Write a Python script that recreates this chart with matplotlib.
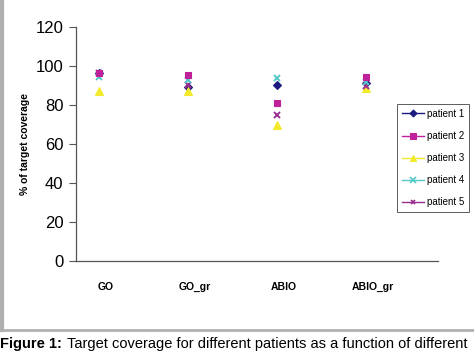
import matplotlib
matplotlib.use("Agg")
import matplotlib.pyplot as plt
from matplotlib.lines import Line2D

plt.rcParams['font.family'] = ['Liberation Sans', 'DejaVu Sans']

categories = ["GO", "GO_gr", "ABIO", "ABIO_gr"]
patient1 = [96.2, 89.0, 90.0, 91.0]
patient2 = [96.5, 95.3, 81.0, 94.4]
patient3 = [87.0, 87.0, 69.5, 88.7]
patient4 = [94.5, 92.8, 94.0, 91.8]
patient5 = [96.4, 90.0, 75.0, 89.8]
series_names = ["patient 1", "patient 2", "patient 3", "patient 4", "patient 5"]
yticks = [0, 20, 40, 60, 80, 100, 120]

series = [patient1, patient2, patient3, patient4, patient5]
colors = ["#1a1a80", "#c0209a", "#f2ea2a", "#55c8c8", "#9a2e90"]
markers = ["D", "s", "^", "x", "x"]
msizes = [4, 5, 5.5, 5, 4]
zorders = [3, 5, 3, 4, 3]

fig = plt.figure(figsize=(4.74, 3.54), dpi=100)
ax = fig.add_axes([0.160, 0.263, 0.764, 0.661])

xpos = list(range(1, len(categories) + 1))
handles = []
for s, c, m, ms, name, z in zip(series, colors, markers, msizes, series_names, zorders):
    ax.plot(xpos, s, linestyle='none', marker=m, color=c, markersize=ms,
            markeredgewidth=1.4 if m == 'x' else 0.8, zorder=z)
    handles.append(Line2D([0], [0], color=c, marker=m, markersize=ms - 0.5,
                          lw=1.0, markeredgewidth=1.2 if m == 'x' else 0.8, label=name))

ax.set_xlim(0.74, 4.81)
ax.set_ylim(0, 120)
ax.set_yticks(yticks)
ax.set_yticklabels([str(v) for v in yticks], fontsize=12)
ax.set_xticks([p + 0.08 for p in xpos])
ax.set_xticklabels(categories, fontsize=7.5, fontweight='bold')
ax.tick_params(axis='x', length=0, pad=15)
ax.tick_params(axis='y', length=5, width=0.8, color='#555555', pad=4)
for sp in ['top', 'right']:
    ax.spines[sp].set_visible(False)
for sp in ['left', 'bottom']:
    ax.spines[sp].set_color('#555555')
    ax.spines[sp].set_linewidth(0.9)
ax.set_ylabel("% of target coverage", fontsize=7.5, fontweight='bold', labelpad=4)

leg = fig.legend(handles=handles, loc='upper left', bbox_to_anchor=(397 / 474, 1 - 104 / 354),
                 borderaxespad=0.0,
                 fontsize=7, frameon=True, fancybox=False, edgecolor='#333333',
                 handlelength=2.3, borderpad=0.5, labelspacing=1.25, handletextpad=0.3)
leg.get_frame().set_linewidth(0.7)

# gray frame lines
fig.add_artist(Line2D([0.005, 0.005], [1.0, 1 - 330 / 354], transform=fig.transFigure,
                      color='#b0b0b0', lw=3))
fig.add_artist(Line2D([0, 1], [1 - 330 / 354, 1 - 330 / 354], transform=fig.transFigure,
                      color='#b0b0b0', lw=2))

y_cap = 1 - 337 / 354
t1 = fig.text(0.0, y_cap, "Figure 1:", fontsize=10.5, fontweight='bold', va='top', ha='left')
fig.canvas.draw()
bb = t1.get_window_extent()
x2 = (bb.x1 + 5) / fig.bbox.width
fig.text(x2, y_cap, "Target coverage for different patients as a function of different",
         fontsize=10.5, va='top', ha='left')

fig.savefig("out.png", dpi=100)
